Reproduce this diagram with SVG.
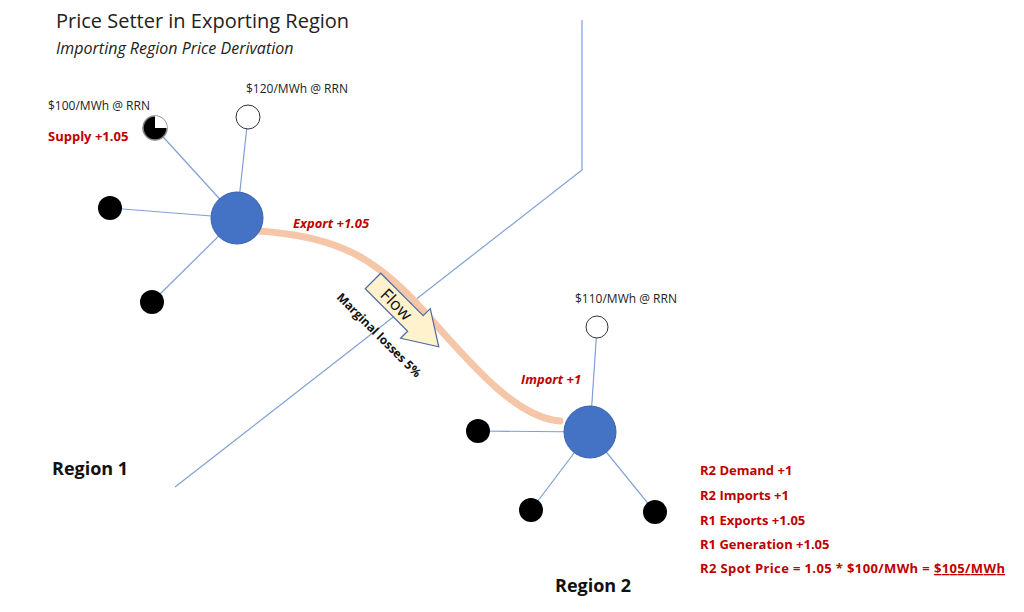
<svg xmlns="http://www.w3.org/2000/svg" width="1024" height="612" viewBox="0 0 1024 612">
<style>
text{font-family:"Open Sans","Liberation Sans",sans-serif}
.lbl{font-size:12px;fill:#222}
.red{font-size:13px;font-weight:bold;fill:#c00000;font-family:"Open Sans","Liberation Sans",sans-serif}
.ri{font-style:italic}
.ln{stroke:#7f9fd6;stroke-width:1.2;fill:none}
.blk{fill:#000}
.hub{fill:#4472c4;stroke:#3a63ad}
.reg{font-size:18px;font-weight:bold;fill:#111}
</style>
<rect width="1024" height="612" fill="#fff"/>
<text x="56" y="28" font-size="20" fill="#222">Price Setter in Exporting Region</text>
<text x="56" y="54" font-size="16" font-style="italic" fill="#222">Importing Region Price Derivation</text>
<g id="connectors">
<path class="ln" d="M175,487 L582,170 L582,20"/>
<path d="M258,231 C340,236 380,260 430,318 C480,375 520,418 560,421" stroke="#f5c6a7" stroke-width="7" fill="none" stroke-linecap="round"/>
<line class="ln" x1="237" y1="218" x2="155" y2="128"/>
<line class="ln" x1="237" y1="218" x2="248" y2="117"/>
<line class="ln" x1="237" y1="218" x2="110" y2="208"/>
<line class="ln" x1="237" y1="218" x2="152" y2="302"/>
<line class="ln" x1="590" y1="432" x2="597" y2="327"/>
<line class="ln" x1="590" y1="432" x2="478" y2="431"/>
<line class="ln" x1="590" y1="432" x2="531" y2="510"/>
<line class="ln" x1="590" y1="432" x2="655" y2="512"/>
</g>
<g id="r1hub"><circle class="hub" cx="237" cy="218" r="26"/></g>
<g id="r1setter"><circle cx="155" cy="128" r="12" fill="#000" stroke="#888" stroke-width="1.5"/><path d="M155,128 L167,128 A12,12 0 0,0 155,116 Z" fill="#fff"/></g>
<g id="r1white"><circle cx="248" cy="117" r="12" fill="#fff" stroke="#333"/></g>
<g id="r1b1"><circle class="blk" cx="110" cy="208" r="12"/></g>
<g id="r1b2"><circle class="blk" cx="152" cy="302" r="12"/></g>
<g id="r2hub"><circle class="hub" cx="590" cy="432" r="26"/></g>
<g id="r2white"><circle cx="597" cy="327" r="11" fill="#fff" stroke="#333"/></g>
<g id="r2b1"><circle class="blk" cx="478" cy="431" r="12"/></g>
<g id="r2b2"><circle class="blk" cx="531" cy="510" r="12"/></g>
<g id="r2b3"><circle class="blk" cx="655" cy="512" r="12"/></g>
<text class="lbl" x="48" y="110">$100/MWh  @ RRN</text>
<text class="lbl" x="246" y="93">$120/MWh  @ RRN</text>
<text class="lbl" x="575" y="303">$110/MWh  @ RRN</text>
<text class="red" x="48" y="141">Supply +1.05</text>
<text class="red ri" x="293" y="228">Export +1.05</text>
<text class="red ri" x="521" y="384">Import +1</text>
<g id="flow" transform="translate(373,281) rotate(45)">
<path d="M0,-11 L60,-11 L60,-21 L93,0 L60,21 L60,11 L0,11 Z" fill="#fff2cc" stroke="#4a6aa0" stroke-width="1.2"/>
<text x="33" y="6" font-size="17" text-anchor="middle" fill="#111">Flow</text>
</g>
<text transform="translate(376,338) rotate(45)" text-anchor="middle" font-size="12" font-weight="bold" fill="#111">Marginal losses 5%</text>
<text class="reg" x="52" y="475">Region 1</text>
<text class="reg" x="555" y="592">Region 2</text>
<text class="red" x="700" y="475">R2 Demand +1</text>
<text class="red" x="700" y="500">R2 Imports +1</text>
<text class="red" x="700" y="525">R1 Exports +1.05</text>
<text class="red" x="700" y="549">R1 Generation +1.05</text>
<text class="red" x="700" y="573" textLength="305" lengthAdjust="spacing">R2 Spot Price = 1.05 * $100/MWh = <tspan text-decoration="underline">$105/MWh</tspan></text>
</svg>
